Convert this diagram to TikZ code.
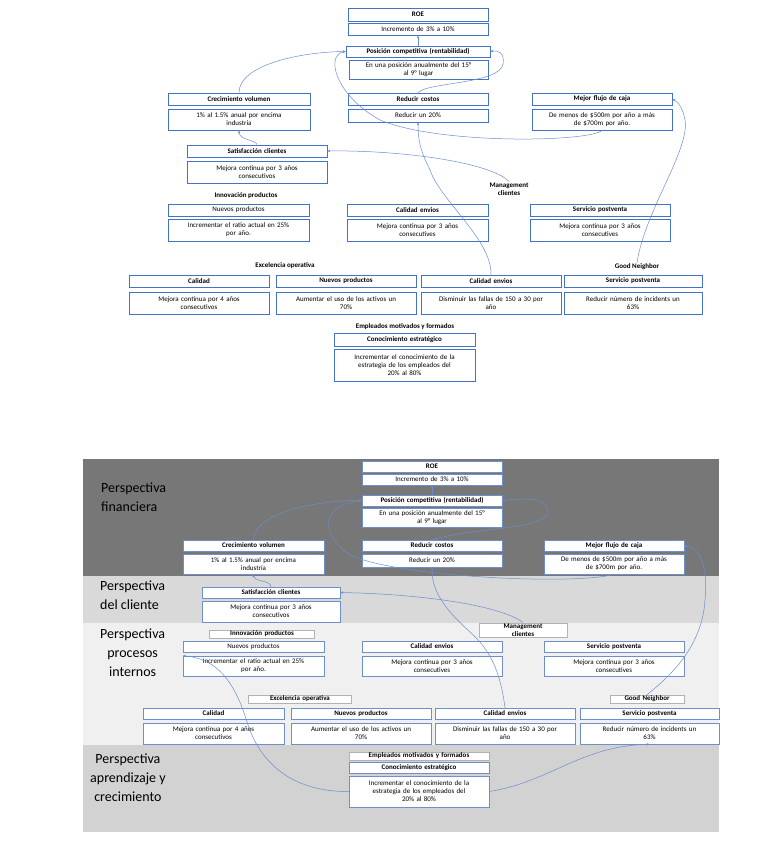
\documentclass[tikz,border=0pt]{standalone}
\usepackage{fontspec}
\setmainfont{Carlito}
\usetikzlibrary{arrows.meta}
\definecolor{bblue}{HTML}{4472C4}
\definecolor{lblue}{HTML}{6F8FC8}
\tikzset{
 box/.style={draw=bblue,line width=0.7pt,fill=white,inner xsep=1pt,inner ysep=0pt,align=center,font=\fontsize{7}{8}\selectfont},
 bbox/.style={box,draw=lblue,line width=0.5pt},
 ttl/.style={font=\fontsize{7}{8}\selectfont\bfseries},
 lab/.style={font=\fontsize{7}{8}\selectfont\bfseries,align=center,inner sep=1pt},
 labb/.style={lab,draw=gray!60,fill=white,line width=0.4pt},
 arr/.style={draw=bblue!80,line width=0.5pt,-{Stealth[length=3pt,width=2.5pt]}},
 persp/.style={font=\fontsize{14}{19}\selectfont,inner sep=0pt}
}
\newcommand\bx[7][]{%
 \pgfmathsetmacro\bxt{#5-#3-2}\pgfmathsetmacro\bxh{#6-#4}%
 \pgfmathsetmacro\bxcx{(#3+#5)/2}\pgfmathsetmacro\bxcy{(#4+#6)/2}%
 \node[box,#1,text width=\bxt pt,minimum height=\bxh pt] (#2) at (\bxcx,\bxcy) {#7};}
\begin{document}
\begin{tikzpicture}[x=1pt,y=-1pt]
\useasboundingbox (0,0) rectangle (768,866);
% ================= TOP DIAGRAM =================
\bx[ttl]{tROE}{348}{8}{488}{21}{ROE}
\bx{tROEt}{348}{23}{488}{35}{Incremento de 3\% a 10\%}
\bx[ttl]{tPC}{346}{46}{490}{57}{Posición competitiva (rentabilidad)}
\bx{tPCt}{349}{60}{488}{79}{En una posición anualmente del 15°\\al 9° lugar}
\bx[ttl]{tCV}{168}{93}{310}{105}{Crecimiento volumen}
\bx{tCVt}{168}{109}{310}{130}{1\% al 1.5\% anual por encima\\industria}
\bx[ttl]{tRC}{348}{93}{488}{105}{Reducir costos}
\bx{tRCt}{348}{109}{488}{122}{Reducir un 20\%}
\bx[ttl]{tMF}{532}{93}{672}{105}{Mejor flujo de caja}
\bx{tMFt}{532}{109}{672}{130}{De menos de \$500m por año a más\\de \$700m por año.}
\bx[ttl]{tSC}{187}{145}{327}{157}{Satisfacción clientes}
\bx{tSCt}{187}{161}{327}{183}{Mejora continua por 3 años\\consecutivos}
\node[lab] (tMC) at (509,189) {Management\\clientes};
\node[lab] (tIP) at (246,196) {Innovación productos};
\bx{tNP}{168}{204}{309}{216}{Nuevos productos}
\bx{tNPt}{168}{219}{309}{241}{Incrementar el ratio actual en 25\%\\por año.}
\bx[ttl]{tCE}{347}{204}{488}{216}{Calidad envios}
\bx{tCEt}{347}{219}{488}{241}{Mejora continua por 3 años\\consecutives}
\bx[ttl]{tSP}{530}{204}{670}{216}{Servicio postventa}
\bx{tSPt}{530}{219}{670}{241}{Mejora continua por 3 años\\consecutives}
\node[lab] (tEO) at (285,266) {Excelencia operativa};
\node[lab] (tGN) at (637,267) {Good Neighbor};
\bx[ttl]{tCA}{129}{275}{269}{287}{Calidad}
\bx{tCAt}{129}{292}{269}{314}{Mejora continua por 4 años\\consecutivos}
\bx[ttl]{tNP2}{276}{275}{416}{287}{Nuevos productos}
\bx{tNP2t}{276}{292}{416}{314}{Aumentar el uso de los activos un\\70\%}
\bx[ttl]{tCE2}{421}{275}{561}{287}{Calidad envios}
\bx{tCE2t}{421}{292}{561}{314}{Disminuir las fallas de 150 a 30 por\\año}
\bx[ttl]{tSP2}{564}{275}{702}{287}{Servicio postventa}
\bx{tSP2t}{564}{292}{702}{314}{Reducir número de incidents un\\63\%}
\node[lab] (tEM) at (405,327) {Empleados motivados y formados};
\bx[ttl]{tK}{334}{333}{475}{346}{Conocimiento estratégico}
\bx{tKt}{334}{349}{475}{381}{Incrementar el conocimiento de la\\estrategia de los empleados del\\20\% al 80\%}
% top arrows
\draw[arr] (tROEt.south |- tPC.north) -- (tROEt.south);
\draw[arr] (tCV.north) .. controls (239,65) and (300,52) .. (tPC.west);
\draw[arr] (tRC.north) .. controls (428,82) and (500,84) .. (503,64) .. controls (505,53) and (498,50) .. (tPC.east);
\draw[arr] (tMFt.south) .. controls (590,142) and (440,145) .. (380,120) .. controls (335,95) and (325,55) .. (tPC.west);
\draw[arr] (tSC.north) .. controls (256,140) and (239,140) .. (tCVt.south);
\draw[arr] (tMC.north) .. controls (490,162) and (400,150) .. (tSC.east);
\draw[arr] (tCE2.north) .. controls (492,240) and (440,200) .. (430,170) .. controls (420,150) and (418,140) .. (tRCt.south);
\draw[arr] (tGN.north) .. controls (645,210) and (690,150) .. (685,120) .. controls (683,108) and (678,102) .. (tMF.east);
% ================= BOTTOM DIAGRAM =================
\fill[gray!88!black!95] (83,459) rectangle (719,576);
\fill[gray!30] (83,576) rectangle (719,623);
\fill[gray!12] (83,623) rectangle (719,745);
\fill[gray!35] (83,745) rectangle (719,832);
\node[persp,anchor=west,align=left] (pF) at (101,497) {Perspectiva\\financiera};
\node[persp,anchor=west,align=left] (pC) at (100,595) {Perspectiva\\del cliente};
\node[persp,anchor=west,align=center] (pP) at (100,653) {Perspectiva\\procesos\\internos};
\node[persp,anchor=west,align=center] (pA) at (90,778) {Perspectiva\\aprendizaje y\\crecimiento};
\bx[bbox,ttl]{bROE}{362}{461}{502}{472}{ROE}
\bx[bbox]{bROEt}{362}{474}{502}{485}{Incremento de 3\% a 10\%}
\bx[bbox,ttl]{bPC}{362}{495}{502}{506}{Posición competitiva (rentabilidad)}
\bx[bbox]{bPCt}{362}{508}{502}{527}{En una posición anualmente del 15°\\al 9° lugar}
\bx[bbox,ttl]{bCV}{183}{540}{324}{551}{Crecimiento volumen}
\bx[bbox]{bCVt}{183}{554}{324}{574}{1\% al 1.5\% anual por encima\\industria}
\bx[bbox,ttl]{bRC}{362}{540}{502}{551}{Reducir costos}
\bx[bbox]{bRCt}{362}{554}{502}{567}{Reducir un 20\%}
\bx[bbox,ttl]{bMF}{544}{540}{684}{551}{Mejor flujo de caja}
\bx[bbox]{bMFt}{544}{554}{684}{574}{De menos de \$500m por año a más\\de \$700m por año.}
\bx[bbox,ttl]{bSC}{202}{587}{340}{598}{Satisfacción clientes}
\bx[bbox]{bSCt}{202}{601}{340}{622}{Mejora continua por 3 años\\consecutivos}
\node[labb,text width=86pt] (bMC) at (523,630) {Management\\clientes};
\node[labb,text width=103pt] (bIP) at (262,634) {Innovación productos};
\bx[bbox]{bNP}{183}{641}{324}{652}{Nuevos productos}
\bx[bbox]{bNPt}{183}{656}{324}{676}{Incrementar el ratio actual en 25\%\\por año.}
\bx[bbox,ttl]{bCE}{362}{641}{502}{652}{Calidad envios}
\bx[bbox]{bCEt}{362}{656}{502}{676}{Mejora continua por 3 años\\consecutives}
\bx[bbox,ttl]{bSP}{544}{641}{684}{652}{Servicio postventa}
\bx[bbox]{bSPt}{544}{656}{684}{676}{Mejora continua por 3 años\\consecutives}
\node[labb,text width=101pt] (bEO) at (300,699) {Excelencia operativa};
\node[labb,text width=72pt] (bGN) at (647,699) {Good Neighbor};
\bx[bbox,ttl]{bCA}{143}{708}{284}{719}{Calidad}
\bx[bbox]{bCAt}{143}{723}{284}{744}{Mejora continua por 4 años\\consecutivos}
\bx[bbox,ttl]{bNP2}{291}{708}{431}{719}{Nuevos productos}
\bx[bbox]{bNP2t}{291}{723}{431}{744}{Aumentar el uso de los activos un\\70\%}
\bx[bbox,ttl]{bCE2}{435}{708}{575}{719}{Calidad envios}
\bx[bbox]{bCE2t}{435}{723}{575}{744}{Disminuir las fallas de 150 a 30 por\\año}
\bx[bbox,ttl]{bSP2}{580}{708}{719}{719}{Servicio postventa}
\bx[bbox]{bSP2t}{580}{723}{719}{744}{Reducir número de incidents un\\63\%}
\node[labb,text width=138pt] (bEM) at (419,756) {Empleados motivados y formados};
\bx[bbox,ttl]{bK}{349}{762}{489}{773}{Conocimiento estratégico}
\bx[bbox]{bKt}{349}{776}{489}{807}{Incrementar el conocimiento de la\\estrategia de los empleados del\\20\% al 80\%}
% bottom arrows
\draw[arr] (bROEt.south |- bPC.north) -- (bROEt.south);
\draw[arr] (bCV.north) .. controls (254,512) and (320,500) .. (bPC.west);
\draw[arr] (bRC.north) .. controls (470,528) and (545,530) .. (548,512) .. controls (550,500) and (530,497) .. (bPC.east);
\draw[arr] (bMFt.south) .. controls (580,585) and (400,578) .. (350,555) .. controls (320,535) and (320,505) .. (bPC.west);
\draw[arr] (bSC.north) .. controls (271,580) and (254,582) .. (bCVt.south);
\draw[arr] (bMC.north) .. controls (500,605) and (420,594) .. (bSC.east);
\draw[arr] (bCE2.north) .. controls (500,670) and (490,650) .. (470,632) .. controls (440,605) and (432,588) .. (bRCt.south);
\draw[arr] (bGN.north) .. controls (665,680) and (702,650) .. (705,600) .. controls (708,565) and (700,548) .. (bMF.east);
\draw[arr] (bKt.west) .. controls (300,792) and (262,770) .. (247,722) .. controls (232,672) and (210,658) .. (bNPt.north west);
\draw[arr] (bKt.east) .. controls (550,782) and (580,746) .. (bSP2t.south);
\end{tikzpicture}
\end{document}
